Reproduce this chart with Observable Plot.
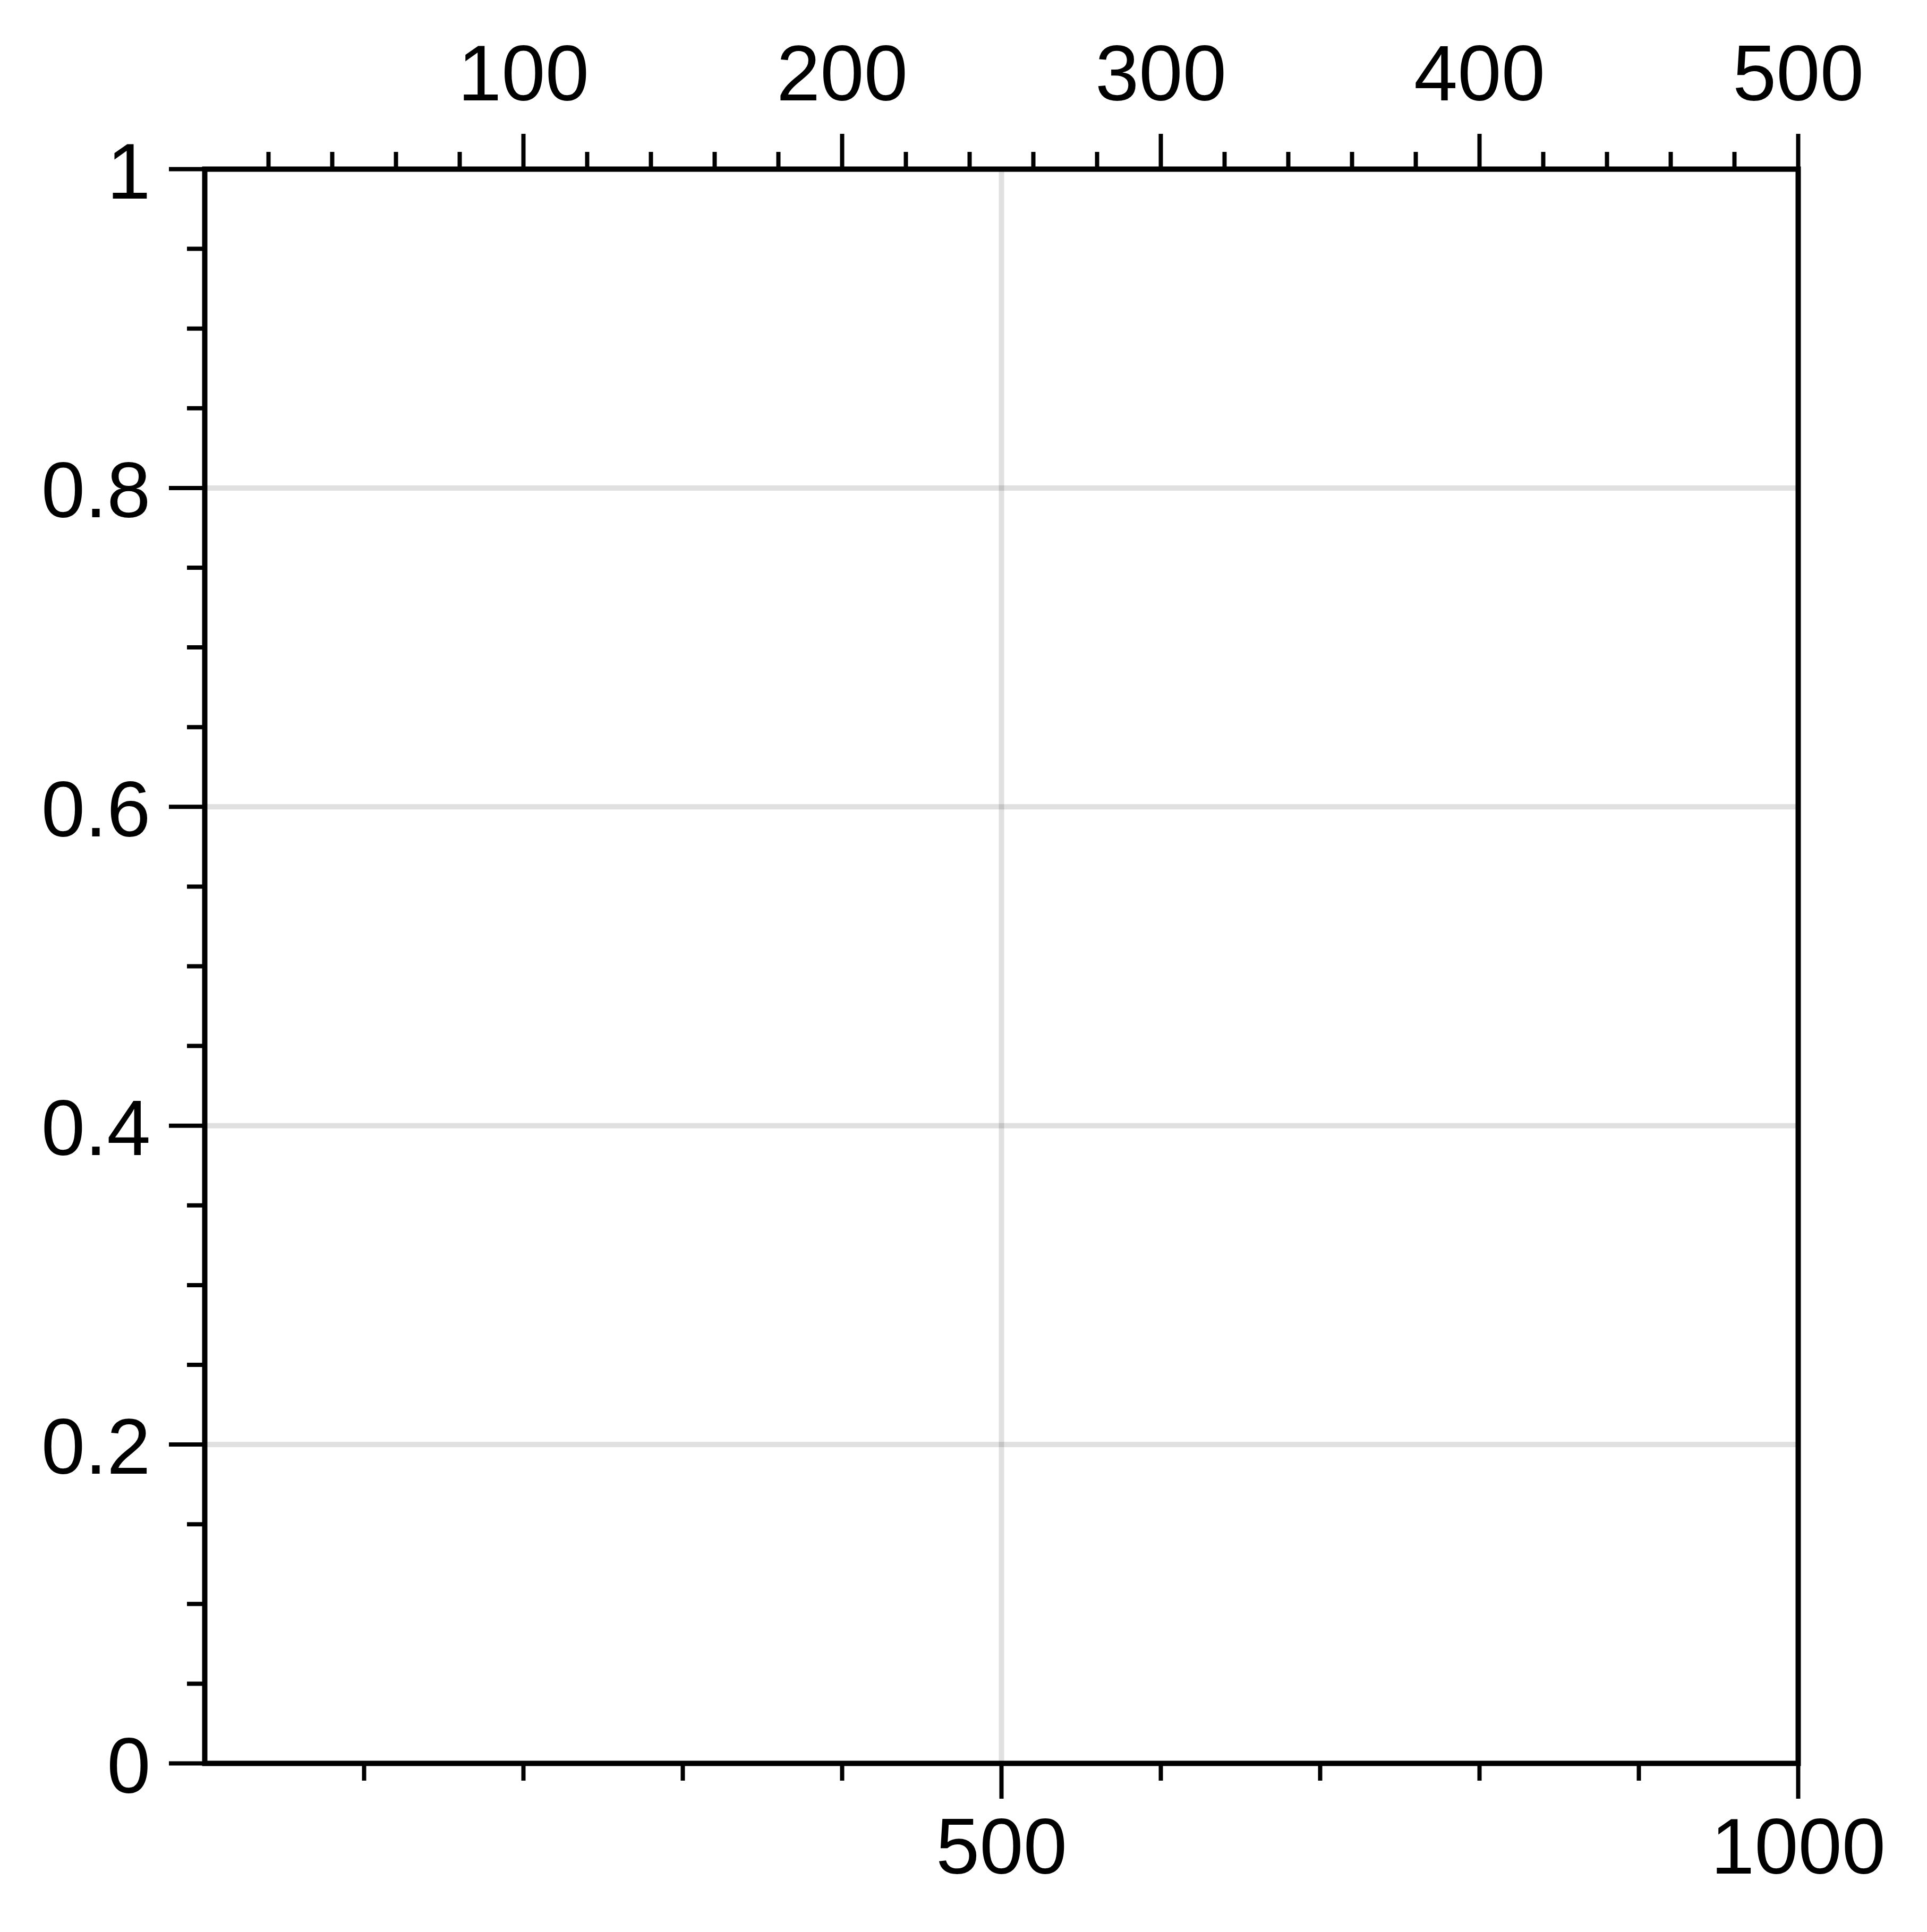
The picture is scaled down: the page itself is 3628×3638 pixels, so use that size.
<!DOCTYPE html>
<html>
<head>
<meta charset="utf-8">
<script src="https://cdn.jsdelivr.net/npm/d3@7"></script>
<script src="https://cdn.jsdelivr.net/npm/@observablehq/plot@0.6"></script>
<style>
  html, body { margin: 0; padding: 0; background: #fff; overflow: hidden; }
  #chart svg { display: block; }
</style>
</head>
<body>
<div id="chart"></div>
<script>
// Scale domains
const xDomain = [0, 1000];
const yDomain = [0, 1];

// Left axis ticks
const yMajorTicks = [0, 0.2, 0.4, 0.6, 0.8, 1];
const yMajorLabels = ["0", "0.2", "0.4", "0.6", "0.8", "1"];
const yMinorTicks = [0.05, 0.1, 0.15, 0.25, 0.3, 0.35, 0.45, 0.5, 0.55, 0.65, 0.7, 0.75, 0.85, 0.9, 0.95];

// Bottom axis ticks
const xMajorTicks = [500, 1000];
const xMajorLabels = ["500", "1000"];
const xMinorTicks = [100, 200, 300, 400, 600, 700, 800, 900];

// Top (secondary) axis ticks, in its own units (0–500)
const topMajorTicks = [100, 200, 300, 400, 500];
const topMajorLabels = ["100", "200", "300", "400", "500"];
const topMinorTicks = [20, 40, 60, 80, 120, 140, 160, 180, 220, 240, 260, 280, 320, 340, 360, 380, 420, 440, 460, 480];
const topToBottom = 2; // secondary axis: bottom value = top value × 2

// Grid lines
const yGrid = [0.2, 0.4, 0.6, 0.8];
const xGrid = [500];

const topMajorPos = topMajorTicks.map(v => v * topToBottom);
const topMinorPos = topMinorTicks.map(v => v * topToBottom);

const fmt = (ticks, labels) => d => labels[ticks.indexOf(d)];

const chart = Plot.plot({
  width: 3628,
  height: 3638,
  marginLeft: 385,
  marginRight: 243,
  marginTop: 318,
  marginBottom: 318,
  x: {domain: xDomain},
  y: {domain: yDomain},
  style: {fontFamily: "'Liberation Sans', Arial, Helvetica, sans-serif", fontSize: "148px", color: "black", background: "white"},
  marks: [
    Plot.ruleY(yGrid, {stroke: "black", strokeOpacity: 0.12, strokeWidth: 10}),
    Plot.ruleX(xGrid, {stroke: "black", strokeOpacity: 0.12, strokeWidth: 10}),
    // left axis
    Plot.axisY(yMinorTicks, {anchor: "left", tickSize: 33, strokeWidth: 8, fill: "none", label: null}),
    Plot.axisY(yMajorTicks, {anchor: "left", tickSize: 67, strokeWidth: 8, fill: "none", label: null}),
    Plot.axisY(yMajorTicks, {anchor: "left", tickSize: 0, tickPadding: 102, dy: 8, stroke: "none", fill: "black", tickFormat: fmt(yMajorTicks, yMajorLabels), label: null}),
    // bottom axis
    Plot.axisX(xMinorTicks, {anchor: "bottom", tickSize: 33, strokeWidth: 8, fill: "none", label: null}),
    Plot.axisX(xMajorTicks, {anchor: "bottom", tickSize: 67, tickPadding: 35, strokeWidth: 8, fill: "black", tickFormat: fmt(xMajorTicks, xMajorLabels), label: null}),
    // top (secondary) axis
    Plot.axisX(topMinorPos, {anchor: "top", tickSize: 33, strokeWidth: 8, fill: "none", label: null}),
    Plot.axisX(topMajorPos, {anchor: "top", tickSize: 67, tickPadding: 63, strokeWidth: 8, fill: "black", tickFormat: fmt(topMajorPos, topMajorLabels), label: null}),
    Plot.frame({stroke: "black", strokeWidth: 10})
  ]
});
document.getElementById("chart").appendChild(chart);
</script>
</body>
</html>
